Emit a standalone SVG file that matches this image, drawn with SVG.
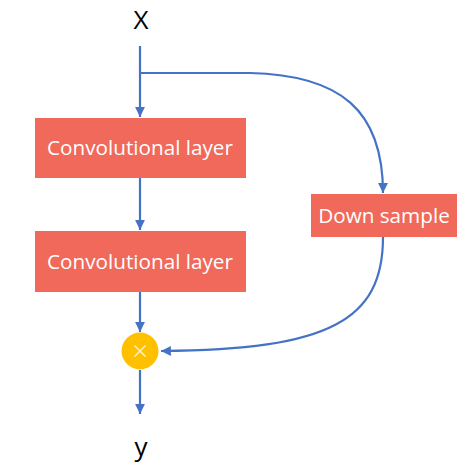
<svg xmlns="http://www.w3.org/2000/svg" width="474" height="474" viewBox="0 0 474 474">
<style>
.box{fill:#F0695A}
.lbl{font-family:"Open Sans","Liberation Sans",sans-serif;font-size:20.7px;fill:#FFFFFF;text-anchor:middle}
.var{font-family:"Open Sans","Liberation Sans",sans-serif;font-size:26px;fill:#000000;text-anchor:middle}
.edge{fill:none;stroke:#4472C4;stroke-width:2.2;marker-end:url(#arr)}
</style>
<defs>
<marker id="arr" viewBox="0 0 10 10" refX="10" refY="5" markerWidth="4.5" markerHeight="4.5" orient="auto" markerUnits="strokeWidth">
<path d="M0,0 L10,5 L0,10 z" fill="#4472C4"/>
</marker>
</defs>
<rect width="474" height="474" fill="#FFFFFF"/>
<g id="connectors">
<path class="edge" d="M140,46 L140,117"/>
<path class="edge" d="M140,73 L250,73 C340,75 383,110 383,193"/>
<path class="edge" d="M140,178 L140,230"/>
<path class="edge" d="M140,292 L140,332"/>
<path class="edge" d="M383,237 C383,320 330,350 161,351"/>
<path class="edge" d="M140,370 L140,414"/>
</g>
<g id="x-input"><text class="var" x="141" y="29">X</text></g>
<g id="conv1">
<rect class="box" x="35" y="118" width="211" height="60"/>
<text class="lbl" x="140" y="155">Convolutional layer</text>
</g>
<g id="conv2">
<rect class="box" x="35" y="231" width="211" height="61"/>
<text class="lbl" x="140" y="269">Convolutional layer</text>
</g>
<g id="downsample">
<rect class="box" x="311" y="194" width="146" height="43"/>
<text class="lbl" x="384" y="223">Down sample</text>
</g>
<g id="multiply">
<circle cx="140" cy="351" r="18.5" fill="#FFC000"/>
<path d="M134.5,345.5 L145.5,356.5 M145.5,345.5 L134.5,356.5" stroke="#FFF2CC" stroke-width="1.5" fill="none"/>
</g>
<g id="y-output"><text class="var" x="141" y="456">y</text></g>
</svg>
